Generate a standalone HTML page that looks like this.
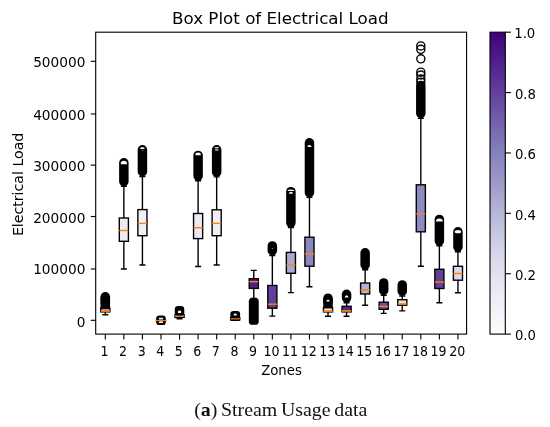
<!DOCTYPE html>
<html lang="en"><head><meta charset="utf-8"><title>Box Plot of Electrical Load</title>
<style>html,body{margin:0;padding:0;background:#fff}svg{display:block}</style></head>
<body>
<svg width="550" height="427" viewBox="0 0 550 427">
<defs><linearGradient id="cb" x1="0" y1="1" x2="0" y2="0">
<stop offset="0" stop-color="#fcfbfd"/>
<stop offset="0.12" stop-color="#efedf5"/>
<stop offset="0.25" stop-color="#dadaeb"/>
<stop offset="0.38" stop-color="#bcbddc"/>
<stop offset="0.5" stop-color="#9e9ac8"/>
<stop offset="0.62" stop-color="#807dba"/>
<stop offset="0.75" stop-color="#6a51a3"/>
<stop offset="0.88" stop-color="#54278f"/>
<stop offset="1" stop-color="#3f007d"/>
</linearGradient></defs>
<rect width="550" height="427" fill="#fff"/>
<g fill="none" stroke="#000" stroke-width="1.39">
<path d="M105.3 311.9V314.7 M105.3 308.2V306" stroke-linecap="butt"/>
<path d="M102.97 314.7H107.62 M102.97 306H107.62" stroke-linecap="square"/>
<rect x="100.75" y="308.2" width="9.1" height="3.7" fill="#9e9ac8"/>
<path d="M100.75 311H109.85" stroke="#ff7f0e" stroke-width="1.8"/>
<path d="M105.3 296.75V303.46" stroke-width="9.49" stroke-linecap="round"/>
<rect x="100.55" y="296.75" width="9.49" height="11.45" fill="#000" stroke="none"/>
<path d="M123.86 241.3V269 M123.86 218V186.3" stroke-linecap="butt"/>
<path d="M121.53 269H126.19 M121.53 186.3H126.19" stroke-linecap="square"/>
<rect x="119.31" y="218" width="9.1" height="23.3" fill="#ecebf4"/>
<path d="M119.31 230.5H128.41" stroke="#ff7f0e" stroke-width="1.39"/>
<path d="M123.86 162.75V181.56" stroke-width="9.49" stroke-linecap="round"/>
<path d="M120.76 164.2V163.44A3.1 2.63 0 0 1 126.96 163.44V164.2Z" fill="#fafafa" stroke="none"/>
<path d="M142.42 235.7V265 M142.42 209.6V176.5" stroke-linecap="butt"/>
<path d="M140.09 265H144.74 M140.09 176.5H144.74" stroke-linecap="square"/>
<rect x="137.87" y="209.6" width="9.1" height="26.1" fill="#f2f0f7"/>
<path d="M137.87 223.4H146.97" stroke="#ff7f0e" stroke-width="1.39"/>
<path d="M142.42 149.84V171.76" stroke-width="9.49" stroke-linecap="round"/>
<ellipse cx="142.42" cy="148.15" rx="2.35" ry="0.85" fill="#fafafa" stroke="none"/>
<ellipse cx="142.42" cy="150.15" rx="1.5" ry="0.35" fill="#999" stroke="none"/>
<path d="M160.98 320.5V320.6 M160.98 320.2V320" stroke-linecap="butt"/>
<path d="M158.66 320.6H163.3 M158.66 320H163.3" stroke-linecap="square"/>
<rect x="156.43" y="320.2" width="9.1" height="0.3" fill="#cecee5"/>
<rect x="156.18" y="315.6" width="9.6" height="9.5" rx="3.2" fill="#000" stroke="none"/>
<rect x="158.78" y="317.8" width="4.4" height="1.8" rx="0.8" fill="#f4f4f4" stroke="none"/>
<rect x="158.78" y="321.3" width="4.4" height="1.8" rx="0.8" fill="#f4f4f4" stroke="none"/>
<path d="M155.98 320.45H166.58" stroke="#ff7f0e" stroke-width="1.1"/>
<path d="M179.54 317.4V318.8 M179.54 314.6V313.8" stroke-linecap="butt"/>
<path d="M177.22 318.8H181.86 M177.22 313.8H181.86" stroke-linecap="square"/>
<rect x="174.99" y="314.6" width="9.1" height="2.8" fill="#cecee5"/>
<path d="M174.99 316.1H184.09" stroke="#ff7f0e" stroke-width="1.2"/>
<rect x="174.79" y="306.0" width="9.5" height="9.6" rx="3.4" fill="#000" stroke="none"/>
<path d="M177.94 312.9V311.86A1.6 1.36 0 0 1 181.14 311.86V312.9Z" fill="#fafafa" stroke="none"/>
<path d="M198.1 238.6V266.5 M198.1 213.5V180.7" stroke-linecap="butt"/>
<path d="M195.78 266.5H200.42 M195.78 180.7H200.42" stroke-linecap="square"/>
<rect x="193.55" y="213.5" width="9.1" height="25.1" fill="#ecebf4"/>
<path d="M193.55 227.7H202.65" stroke="#ff7f0e" stroke-width="1.39"/>
<path d="M198.1 155.44V175.96" stroke-width="9.49" stroke-linecap="round"/>
<path d="M195.4 155.2V154.69A2.7 2.29 0 0 1 200.8 154.69V155.2Z" fill="#fafafa" stroke="none"/>
<path d="M216.66 235.7V265 M216.66 209.8V176.9" stroke-linecap="butt"/>
<path d="M214.33 265H218.98 M214.33 176.9H218.98" stroke-linecap="square"/>
<rect x="212.11" y="209.8" width="9.1" height="25.9" fill="#f2f0f7"/>
<path d="M212.11 223.4H221.21" stroke="#ff7f0e" stroke-width="1.39"/>
<path d="M216.66 149.84V172.16" stroke-width="9.49" stroke-linecap="round"/>
<ellipse cx="216.66" cy="147.65" rx="2.35" ry="0.65" fill="#fafafa" stroke="none"/>
<ellipse cx="216.66" cy="149.95" rx="2" ry="0.65" fill="#fafafa" stroke="none"/>
<path d="M235.22 319.8V320.4 M235.22 317.6V317" stroke-linecap="butt"/>
<path d="M232.89 320.4H237.54 M232.89 317H237.54" stroke-linecap="square"/>
<rect x="230.67" y="317.6" width="9.1" height="2.2" fill="#cecee5"/>
<path d="M230.67 318.9H239.77" stroke="#ff7f0e" stroke-width="1.39"/>
<rect x="230.27" y="311.1" width="9.9" height="7.2" rx="3.2" fill="#000" stroke="none"/>
<path d="M230.62 320.3H239.82" stroke-width="1.3"/>
<path d="M233.72 315.5V314.77A1.5 1.27 0 0 1 236.72 314.77V315.5Z" fill="#fafafa" stroke="none"/>
<path d="M253.78 288.4V298.5 M253.78 278.7V270.4" stroke-linecap="butt"/>
<path d="M251.45 298.5H256.1 M251.45 270.4H256.1" stroke-linecap="square"/>
<rect x="249.23" y="278.7" width="9.1" height="9.7" fill="#501f8b"/>
<path d="M249.23 281.7H258.33" stroke="#ff7f0e" stroke-width="1.39"/>
<rect x="248.83" y="297.9" width="9.9" height="26.9" rx="3.4" fill="#000" stroke="none"/>
<path d="M272.34 308.2V316.1 M272.34 285.5V255.5" stroke-linecap="butt"/>
<path d="M270.01 316.1H274.66 M270.01 255.5H274.66" stroke-linecap="square"/>
<rect x="267.79" y="285.5" width="9.1" height="22.7" fill="#61409b"/>
<path d="M267.79 304.2H276.89" stroke="#ff7f0e" stroke-width="1.39"/>
<path d="M272.34 245.94V250.76" stroke-width="9.49" stroke-linecap="round"/>
<path d="M271.74 248.7V248.41A0.6 0.51 0 0 1 272.94 248.41V248.7Z" fill="#fafafa" stroke="none"/>
<path d="M290.9 273.3V292.6 M290.9 252.4V227.6" stroke-linecap="butt"/>
<path d="M288.57 292.6H293.22 M288.57 227.6H293.22" stroke-linecap="square"/>
<rect x="286.35" y="252.4" width="9.1" height="20.9" fill="#aaa8d0"/>
<path d="M286.35 265.1H295.45" stroke="#ff7f0e" stroke-width="1.39"/>
<path d="M290.9 191.65V222.86" stroke-width="9.49" stroke-linecap="round"/>
<path d="M287.7 191.1V190.84A3.2 1.44 0 0 1 294.1 190.84V191.1Z" fill="#fafafa" stroke="none"/>
<ellipse cx="290.9" cy="192.9" rx="2.05" ry="0.9" fill="#fafafa" stroke="none"/>
<path d="M309.46 266.2V286.7 M309.46 237.2V197.4" stroke-linecap="butt"/>
<path d="M307.13 286.7H311.78 M307.13 197.4H311.78" stroke-linecap="square"/>
<rect x="304.91" y="237.2" width="9.1" height="29" fill="#8b87bf"/>
<path d="M304.91 253.9H314.01" stroke="#ff7f0e" stroke-width="1.39"/>
<path d="M309.46 142.84V192.66" stroke-width="9.49" stroke-linecap="round"/>
<path d="M307.46 146.9V146.62A2 1.62 0 0 1 311.46 146.62V146.9Z" fill="#fafafa" stroke="none"/>
<path d="M328.02 311.9V316.3 M328.02 307.7V306.7" stroke-linecap="butt"/>
<path d="M325.69 316.3H330.34 M325.69 306.7H330.34" stroke-linecap="square"/>
<rect x="323.47" y="307.7" width="9.1" height="4.2" fill="#e2e2ef"/>
<path d="M323.47 311.1H332.57" stroke="#ff7f0e" stroke-width="1.8"/>
<path d="M328.02 298.14V301.96" stroke-width="9.49" stroke-linecap="round"/>
<rect x="323.27" y="298.14" width="9.49" height="9.56" fill="#000" stroke="none"/>
<path d="M326.42 301.5V301.16A1.6 1.36 0 0 1 329.62 301.16V301.5Z" fill="#fafafa" stroke="none"/>
<path d="M346.58 311.9V316.3 M346.58 306.3V302.7" stroke-linecap="butt"/>
<path d="M344.25 316.3H348.9 M344.25 302.7H348.9" stroke-linecap="square"/>
<rect x="342.03" y="306.3" width="9.1" height="5.6" fill="#54278f"/>
<path d="M342.03 310.9H351.13" stroke="#ff7f0e" stroke-width="1.8"/>
<path d="M346.58 294.35V297.96" stroke-width="9.49" stroke-linecap="round"/>
<path d="M344.88 297.6V296.94A1.7 1.44 0 0 1 348.28 296.94V297.6Z" fill="#fafafa" stroke="none"/>
<path d="M365.14 294V305.2 M365.14 283V269.7" stroke-linecap="butt"/>
<path d="M362.81 305.2H367.46 M362.81 269.7H367.46" stroke-linecap="square"/>
<rect x="360.59" y="283" width="9.1" height="11" fill="#b1b0d5"/>
<path d="M360.59 289.8H369.69" stroke="#ff7f0e" stroke-width="1.39"/>
<path d="M365.14 252.75V264.96" stroke-width="9.49" stroke-linecap="round"/>
<path d="M383.7 309.3V313.4 M383.7 302.2V295.2" stroke-linecap="butt"/>
<path d="M381.38 313.4H386.02 M381.38 295.2H386.02" stroke-linecap="square"/>
<rect x="379.15" y="302.2" width="9.1" height="7.1" fill="#6a51a3"/>
<path d="M379.15 306.4H388.25" stroke="#ff7f0e" stroke-width="1.39"/>
<path d="M383.7 282.94V290.46" stroke-width="9.49" stroke-linecap="round"/>
<path d="M402.26 305.2V310.9 M402.26 299.7V296" stroke-linecap="butt"/>
<path d="M399.94 310.9H404.58 M399.94 296H404.58" stroke-linecap="square"/>
<rect x="397.71" y="299.7" width="9.1" height="5.5" fill="#dfdfed"/>
<path d="M397.71 303.9H406.81" stroke="#ff7f0e" stroke-width="1.39"/>
<path d="M402.26 284.94V291.26" stroke-width="9.49" stroke-linecap="round"/>
<path d="M420.82 231.8V266.3 M420.82 184.8V118.2" stroke-linecap="butt"/>
<path d="M418.5 266.3H423.14 M418.5 118.2H423.14" stroke-linecap="square"/>
<rect x="416.27" y="184.8" width="9.1" height="47" fill="#8d8ac0"/>
<path d="M416.27 213.8H425.37" stroke="#ff7f0e" stroke-width="1.39"/>
<circle cx="420.82" cy="45.9" r="4.05"/>
<circle cx="420.82" cy="49.3" r="4.05"/>
<circle cx="420.82" cy="58.8" r="4.05"/>
<circle cx="420.82" cy="72.2" r="4.05"/>
<circle cx="420.82" cy="75" r="4.05"/>
<circle cx="420.82" cy="79" r="4.05"/>
<circle cx="420.82" cy="82.2" r="4.05"/>
<path d="M420.82 85.6V113.47" stroke-width="9.49" stroke-linecap="round"/>
<path d="M439.38 288.5V302.7 M439.38 269.3V245.7" stroke-linecap="butt"/>
<path d="M437.06 302.7H441.7 M437.06 245.7H441.7" stroke-linecap="square"/>
<rect x="434.83" y="269.3" width="9.1" height="19.2" fill="#61409b"/>
<path d="M434.83 282H443.93" stroke="#ff7f0e" stroke-width="1.39"/>
<path d="M439.38 219.44V240.96" stroke-width="9.49" stroke-linecap="round"/>
<path d="M435.98 221.6V221.13A3.4 2.63 0 0 1 442.78 221.13V221.6Z" fill="#fafafa" stroke="none"/>
<path d="M457.94 280.2V292.7 M457.94 266.3V251.7" stroke-linecap="butt"/>
<path d="M455.62 292.7H460.26 M455.62 251.7H460.26" stroke-linecap="square"/>
<rect x="453.39" y="266.3" width="9.1" height="13.9" fill="#dadaeb"/>
<path d="M453.39 273.5H462.49" stroke="#ff7f0e" stroke-width="1.39"/>
<path d="M457.94 231.75V246.96" stroke-width="9.49" stroke-linecap="round"/>
<ellipse cx="457.94" cy="231.7" rx="3.25" ry="1.6" fill="#fafafa" stroke="none"/>
</g>
<rect x="95.7" y="32.2" width="370.9" height="301.9" fill="none" stroke="#000" stroke-width="1.11"/>
<g stroke="#000" stroke-width="1.11">
<path d="M105.3 334.1v5.5"/>
<path d="M123.86 334.1v5.5"/>
<path d="M142.42 334.1v5.5"/>
<path d="M160.98 334.1v5.5"/>
<path d="M179.54 334.1v5.5"/>
<path d="M198.1 334.1v5.5"/>
<path d="M216.66 334.1v5.5"/>
<path d="M235.22 334.1v5.5"/>
<path d="M253.78 334.1v5.5"/>
<path d="M272.34 334.1v5.5"/>
<path d="M290.9 334.1v5.5"/>
<path d="M309.46 334.1v5.5"/>
<path d="M328.02 334.1v5.5"/>
<path d="M346.58 334.1v5.5"/>
<path d="M365.14 334.1v5.5"/>
<path d="M383.7 334.1v5.5"/>
<path d="M402.26 334.1v5.5"/>
<path d="M420.82 334.1v5.5"/>
<path d="M439.38 334.1v5.5"/>
<path d="M457.94 334.1v5.5"/>
<path d="M95.7 320.3h-4.9"/>
<path d="M95.7 269h-4.9"/>
<path d="M95.7 216.5h-4.9"/>
<path d="M95.7 165.15h-4.9"/>
<path d="M95.7 114h-4.9"/>
<path d="M95.7 61.3h-4.9"/>
</g>
<rect x="490" y="32.2" width="15.3" height="301.9" fill="url(#cb)" stroke="#000" stroke-width="1.11"/>
<g stroke="#000" stroke-width="1.11">
<path d="M505.3 334.1h5.6"/>
<path d="M505.3 273.72h5.6"/>
<path d="M505.3 213.34h5.6"/>
<path d="M505.3 152.96h5.6"/>
<path d="M505.3 92.58h5.6"/>
<path d="M505.3 32.2h5.6"/>
</g>
<g font-family="'DejaVu Sans', 'Liberation Sans', sans-serif" fill="#000">
<text transform="translate(104.5 355.6) scale(0.85 1)" font-size="14.8" text-anchor="middle">1</text>
<text transform="translate(123.06 355.6) scale(0.85 1)" font-size="14.8" text-anchor="middle">2</text>
<text transform="translate(141.62 355.6) scale(0.85 1)" font-size="14.8" text-anchor="middle">3</text>
<text transform="translate(160.18 355.6) scale(0.85 1)" font-size="14.8" text-anchor="middle">4</text>
<text transform="translate(178.74 355.6) scale(0.85 1)" font-size="14.8" text-anchor="middle">5</text>
<text transform="translate(197.3 355.6) scale(0.85 1)" font-size="14.8" text-anchor="middle">6</text>
<text transform="translate(215.86 355.6) scale(0.85 1)" font-size="14.8" text-anchor="middle">7</text>
<text transform="translate(234.42 355.6) scale(0.85 1)" font-size="14.8" text-anchor="middle">8</text>
<text transform="translate(252.98 355.6) scale(0.85 1)" font-size="14.8" text-anchor="middle">9</text>
<text transform="translate(271.54 355.6) scale(0.85 1)" font-size="14.8" text-anchor="middle">10</text>
<text transform="translate(290.1 355.6) scale(0.85 1)" font-size="14.8" text-anchor="middle">11</text>
<text transform="translate(308.66 355.6) scale(0.85 1)" font-size="14.8" text-anchor="middle">12</text>
<text transform="translate(327.22 355.6) scale(0.85 1)" font-size="14.8" text-anchor="middle">13</text>
<text transform="translate(345.78 355.6) scale(0.85 1)" font-size="14.8" text-anchor="middle">14</text>
<text transform="translate(364.34 355.6) scale(0.85 1)" font-size="14.8" text-anchor="middle">15</text>
<text transform="translate(382.9 355.6) scale(0.85 1)" font-size="14.8" text-anchor="middle">16</text>
<text transform="translate(401.46 355.6) scale(0.85 1)" font-size="14.8" text-anchor="middle">17</text>
<text transform="translate(420.02 355.6) scale(0.85 1)" font-size="14.8" text-anchor="middle">18</text>
<text transform="translate(438.58 355.6) scale(0.85 1)" font-size="14.8" text-anchor="middle">19</text>
<text transform="translate(457.14 355.6) scale(0.85 1)" font-size="14.8" text-anchor="middle">20</text>
<text transform="translate(85.4 326.5) scale(0.92 1)" font-size="14.9" text-anchor="end">0</text>
<text transform="translate(85.4 274) scale(0.92 1)" font-size="14.9" text-anchor="end">100000</text>
<text transform="translate(85.4 222.6) scale(0.92 1)" font-size="14.9" text-anchor="end">200000</text>
<text transform="translate(85.4 171) scale(0.92 1)" font-size="14.9" text-anchor="end">300000</text>
<text transform="translate(85.4 119.5) scale(0.92 1)" font-size="14.9" text-anchor="end">400000</text>
<text transform="translate(85.4 66.7) scale(0.92 1)" font-size="14.9" text-anchor="end">500000</text>
<text transform="translate(514.9 340.4) scale(0.89 1)" font-size="14.9" text-anchor="start">0.0</text>
<text transform="translate(514.9 280.02) scale(0.89 1)" font-size="14.9" text-anchor="start">0.2</text>
<text transform="translate(514.9 219.64) scale(0.89 1)" font-size="14.9" text-anchor="start">0.4</text>
<text transform="translate(514.9 159.26) scale(0.89 1)" font-size="14.9" text-anchor="start">0.6</text>
<text transform="translate(514.9 98.88) scale(0.89 1)" font-size="14.9" text-anchor="start">0.8</text>
<text transform="translate(514.2 38) scale(0.89 1)" font-size="14.9" text-anchor="start">1.0</text>
<text transform="translate(281.5 374.5) scale(0.94 1)" font-size="14.1" text-anchor="middle">Zones</text>
<text transform="translate(23.2 184.4) rotate(-90) scale(0.95 1)" font-size="14.9" text-anchor="middle">Electrical Load</text>
<text transform="translate(280.3 24.2)" font-size="16.7" text-anchor="middle">Box Plot of Electrical Load</text>
</g>
<text transform="translate(194.2 416) scale(1.105 1)" font-family="'Liberation Serif', serif" font-size="18" word-spacing="-1.2" fill="#111">(<tspan font-weight="bold">a</tspan>) Stream Usage data</text>
</svg>
</body></html>
